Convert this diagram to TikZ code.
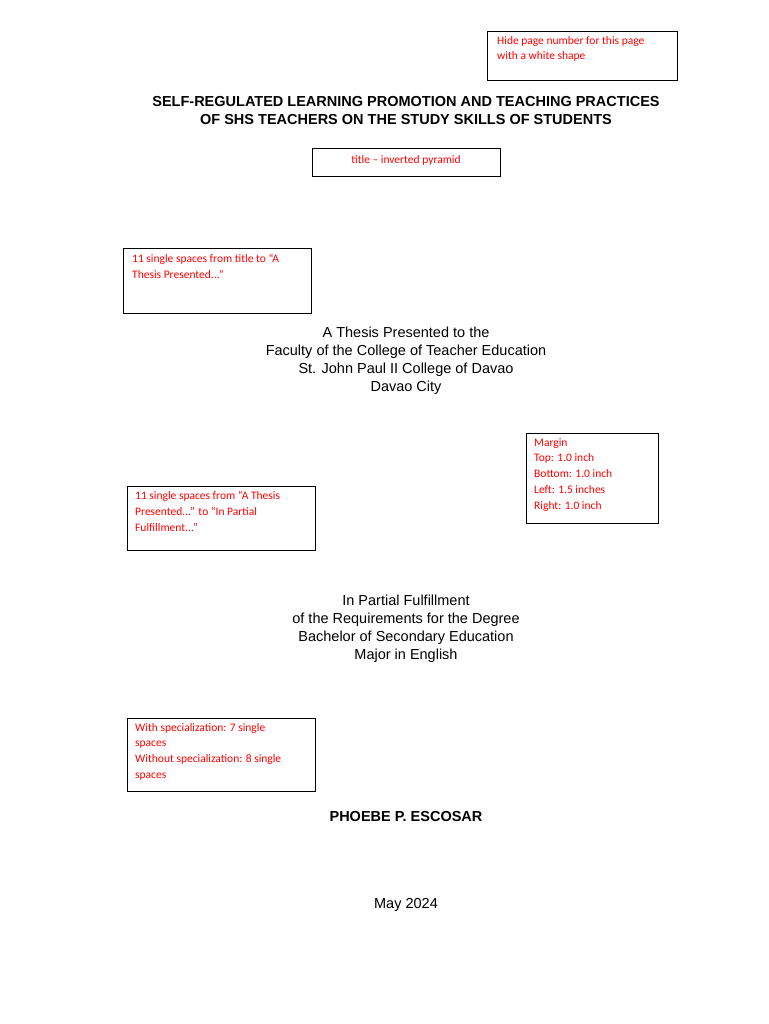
\documentclass[tikz,border=0pt]{standalone}
\usepackage{fontspec}
\setmainfont{Liberation Sans}
\newfontfamily\notefont{Carlito}
\begin{document}
\begin{tikzpicture}[x=1pt,y=-1pt,
  note/.style={draw=black,line width=0.9pt},
  notetext/.style={anchor=north west,align=left,inner sep=0pt,text=red,font=\notefont\fontsize{11.5}{15.8}\selectfont},
  body/.style={align=center,inner sep=0pt,font=\fontsize{14.5}{18}\selectfont},
  bold/.style={align=center,inner sep=0pt,font=\bfseries\fontsize{14.5}{18}\selectfont}]
\useasboundingbox (0,0) rectangle (768,1024);
\fill[white] (0,0) rectangle (768,1024);
\draw[note] (487,31) rectangle (677,80);
\node[notetext] (n1) at (497,36) {Hide page number for this page\\with a white shape};
\draw[note] (312,148) rectangle (500,176);
\node[notetext,anchor=center] (n2) at (406,160) {title – inverted pyramid};
\draw[note] (123,248) rectangle (311,313);
\node[notetext] (n3) at (132,254) {11 single spaces from title to “A\\Thesis Presented...”};
\draw[note] (526,433) rectangle (658,523);
\node[notetext] (n4) at (534,438) {Margin\\Top: 1.0 inch\\Bottom: 1.0 inch\\Left: 1.5 inches\\Right: 1.0 inch};
\draw[note] (127,486) rectangle (315,550);
\node[notetext] (n5) at (135,491) {11 single spaces from “A Thesis\\Presented...” to “In Partial\\Fulfillment...”};
\draw[note] (127,718) rectangle (315,791);
\node[notetext] (n6) at (135,723) {With specialization: 7 single\\spaces\\Without specialization: 8 single\\spaces};
\node[bold] (t) at (406,111) {SELF-REGULATED LEARNING PROMOTION AND TEACHING PRACTICES\\OF SHS TEACHERS ON THE STUDY SKILLS OF STUDENTS};
\node[body] (a) at (406,361) {A Thesis Presented to the\\Faculty of the College of Teacher Education\\St. John Paul II College of Davao\\Davao City};
\node[body] (p) at (406,628.5) {In Partial Fulfillment\\of the Requirements for the Degree\\Bachelor of Secondary Education\\Major in English};
\node[bold] (nm) at (406,816) {PHOEBE P. ESCOSAR};
\node[body] (d) at (406,905) {May 2024};
\end{tikzpicture}
\end{document}
